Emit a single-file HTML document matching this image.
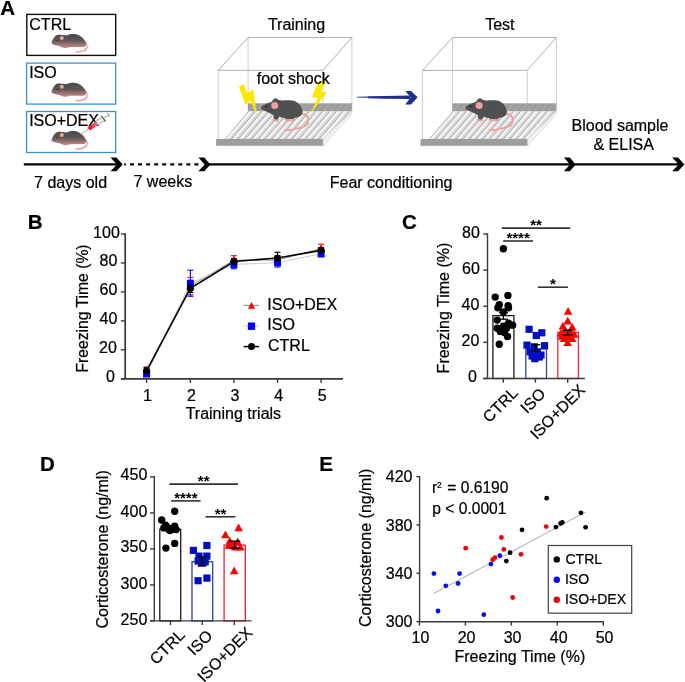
<!DOCTYPE html>
<html><head><meta charset="utf-8"><style>
html,body{margin:0;padding:0;background:#fff;}
svg{display:block;}
text{font-family:"Liberation Sans", Arial, Helvetica, sans-serif;stroke:#000;stroke-width:0.22px;}
</style></head><body>
<svg width="685" height="682" viewBox="0 0 685 682">
<rect width="685" height="682" fill="#fff"/>
<defs>
<linearGradient id="mg" x1="0" y1="0" x2="0" y2="1">
<stop offset="0" stop-color="#4a4a4a"/><stop offset="0.45" stop-color="#5c5454"/><stop offset="1" stop-color="#d08a8a"/>
</linearGradient>
<linearGradient id="rg" x1="0" y1="0" x2="1" y2="0"><stop offset="0" stop-color="#e8001a"/><stop offset="1" stop-color="#f77a8a"/></linearGradient>
<g id="smouse">
<path d="M85.5,91 C88.5,94 87.5,98.5 83,99.8 C81,100.4 78,100.7 76,100.7" fill="none" stroke="#f08c8c" stroke-width="1.2" stroke-linecap="round"/>
<path d="M51.5,91.8 C52.5,88 55,84.2 58,83.6 C61,83 64,84.5 67,84 C70,82.6 75,82 79,84 C82,85.5 85,88.5 86,92 C86.5,94.5 85,95.5 83,95.7 L70,95.8 C67,97 64,97 62.5,96.2 C59,94.5 55,94 53,93.4 C52,93 51.5,92.5 51.5,91.8 Z" fill="url(#mg)"/>
<circle cx="61.8" cy="86.7" r="2" fill="#f4a0a0"/>
<circle cx="57.3" cy="89.4" r="0.6" fill="#111"/>
<circle cx="52" cy="92.3" r="0.8" fill="#f08c8c"/>
</g>
<g id="bmouse">
<path d="M302.39,113.47 C305.5,114.4 308.2,116.5 308.4,119.9 C308.5,122.5 307.5,124 306.4,124.9 C304.5,126.5 302,127.3 300,127.6 C297,128.3 294,129.2 291.95,129.6 C289,130.1 287,130.3 285.5,130.3" fill="none" stroke="#f0a0a0" stroke-width="1.9" stroke-linecap="round"/>
<ellipse cx="275.6" cy="119.9" rx="3" ry="1.5" fill="#f0a0a0"/>
<ellipse cx="289.6" cy="119.5" rx="5.6" ry="1.7" fill="#f0a0a0"/>
<ellipse cx="276.2" cy="117" rx="2.8" ry="2.4" fill="#505050"/>
<ellipse cx="289.5" cy="117.6" rx="5.2" ry="1.5" fill="#505050"/>
<path d="M259.66,107.69 C261,106.5 263,105.4 265,104.4 C267.5,103.2 269.5,102.4 271.06,102.23 L273.07,99.82 C274,98.6 275,98.2 275.88,98.21 C277,98.3 277.9,98.9 277.89,99.8 L281.51,100.62 C284,100.3 286,100.2 287.13,100.22 C289.5,100.2 291.5,100.4 292.75,100.62 C294.5,101 296,101.6 296.77,102.23 C298.2,103.2 299,104 299.58,104.64 C300.6,105.8 301.2,107 301.59,108.25 C302.1,109.5 302.4,110.7 302.39,111.87 C302.4,113 302.3,113.7 301.99,114.28 C301.5,115.3 300.8,115.9 299.98,116.29 C299,116.9 297.9,117.3 296.77,117.49 C295.5,117.8 294,117.9 292.75,117.89 L287.13,118.13 C285,118.1 283,117.8 281.51,117.49 C280,117.1 278.6,116.7 277.49,116.29 L273.47,115.08 C272,114.5 270.6,113.7 269.46,113.07 C267.5,112.1 266,111.3 264.64,110.66 C263.4,110.1 262.3,109.6 261.43,109.06 C260.6,108.6 260,108.1 259.66,107.69 Z" fill="#505050"/>
<circle cx="274.7" cy="105.4" r="3.5" fill="#f0a0a0"/>
<ellipse cx="266.2" cy="106.4" rx="1" ry="0.65" fill="#111"/>
<circle cx="260.3" cy="107.8" r="0.9" fill="#f0a0a0"/>
</g>
</defs>
<text x="0.15" y="14.50" font-size="20.5" font-weight="bold" fill="#000" >A</text>
<rect x="26.8" y="14.4" width="88.9" height="41" fill="none" stroke="#111" stroke-width="1.4"/>
<rect x="26.6" y="63.1" width="89.1" height="41" fill="none" stroke="#3d8fd6" stroke-width="1.3"/>
<rect x="26.6" y="111.5" width="89.1" height="41" fill="none" stroke="#3d8fd6" stroke-width="1.3"/>
<text x="29.30" y="29.50" font-size="16" fill="#000" >CTRL</text>
<text x="29.16" y="77.60" font-size="16" fill="#000" >ISO</text>
<text x="29.16" y="126.00" font-size="16" fill="#000" >ISO+DEX</text>
<use href="#smouse" transform="translate(0,-48.8)"/>
<use href="#smouse" transform="translate(0,0)"/>
<use href="#smouse" transform="translate(0,48.4)"/>
<g transform="translate(88.6,129) rotate(-34.8)"><line x1="-16.7" y1="0" x2="0" y2="0" stroke="#666" stroke-width="0.7" stroke-dasharray="1.5,0.6"/><path d="M0,-1.2 L1.2,-2.1 L10.3,-2.1 L10.3,2.1 L1.2,2.1 L0,1.2 Z" fill="url(#rg)"/><rect x="10.3" y="-2.1" width="7.8" height="4.2" fill="#fff" stroke="#777" stroke-width="0.6"/><line x1="12" y1="-1" x2="17" y2="-1" stroke="#bbb" stroke-width="0.4"/><line x1="12" y1="1" x2="17" y2="1" stroke="#bbb" stroke-width="0.4"/><line x1="18.1" y1="-3.6" x2="18.1" y2="3.6" stroke="#444" stroke-width="1"/><line x1="18.1" y1="0" x2="24.6" y2="0" stroke="#777" stroke-width="0.7"/><line x1="24.6" y1="-2.4" x2="24.6" y2="2.4" stroke="#777" stroke-width="0.8"/></g>
<line x1="23.80" y1="164.40" x2="117.00" y2="164.40" stroke="#000" stroke-width="2.1" />
<rect x="124.2" y="163.3" width="1.7" height="2.2" fill="#000"/>
<line x1="130.00" y1="164.40" x2="200.00" y2="164.40" stroke="#000" stroke-width="2.2" stroke-dasharray="4,4.05"/>
<line x1="205.00" y1="164.40" x2="570.00" y2="164.40" stroke="#000" stroke-width="2.1" />
<line x1="570.00" y1="164.40" x2="680.00" y2="164.40" stroke="#000" stroke-width="2.1" />
<path d="M110.5,157.45000000000002 L116.4,157.45000000000002 L122.7,164.4 L116.4,171.35 L110.5,171.35 L117.0,164.4 Z" fill="#000"/>
<path d="M198.4,157.45000000000002 L204.3,157.45000000000002 L210.3,164.4 L204.3,171.35 L198.4,171.35 L204.6,164.4 Z" fill="#000"/>
<path d="M563.9,157.45000000000002 L569.8,157.45000000000002 L575.7,164.4 L569.8,171.35 L563.9,171.35 L570.0000000000001,164.4 Z" fill="#000"/>
<path d="M672.1,157.45000000000002 L678.0,157.45000000000002 L684.4,164.4 L678.0,171.35 L672.1,171.35 L678.7,164.4 Z" fill="#000"/>
<text x="34.10" y="187.60" font-size="16" fill="#000" >7 days old</text>
<text x="133.50" y="187.40" font-size="16" fill="#000" >7 weeks</text>
<text x="329.72" y="187.80" font-size="16" fill="#000" >Fear conditioning</text>
<text x="571.52" y="130.60" font-size="16" fill="#000" >Blood sample</text>
<text x="593.44" y="149.60" font-size="16" fill="#000" >&amp; ELISA</text>
<text x="267.88" y="29.80" font-size="16" fill="#000" >Training</text>
<text x="485.18" y="30.00" font-size="16" fill="#000" >Test</text>
<g transform="translate(0,0)">
<line x1="218.10" y1="70.50" x2="218.10" y2="138.80" stroke="#d2d2d2" stroke-width="1.1" />
<line x1="322.80" y1="70.50" x2="322.80" y2="110.00" stroke="#d2d2d2" stroke-width="1.1" />
<line x1="248.10" y1="37.50" x2="248.10" y2="103.40" stroke="#d2d2d2" stroke-width="1.1" />
<line x1="351.90" y1="37.50" x2="351.90" y2="110.80" stroke="#d2d2d2" stroke-width="1.1" />
<line x1="248.10" y1="37.50" x2="351.90" y2="37.50" stroke="#a8a8a8" stroke-width="0.9" />
<line x1="218.10" y1="70.40" x2="322.80" y2="70.40" stroke="#a8a8a8" stroke-width="0.9" />
<line x1="218.10" y1="70.40" x2="248.10" y2="37.50" stroke="#8c8c8c" stroke-width="0.7" />
<line x1="322.80" y1="70.40" x2="351.90" y2="37.50" stroke="#8c8c8c" stroke-width="0.7" />
<rect x="247.8" y="103.3" width="104.1" height="8.2" fill="#9d9d9d"/>
<path d="M247.8,111.5 L351.9,111.5 L323.2,138.9 L224.7,138.9 Z" fill="#dedede"/>
<clipPath id="fl0"><path d="M247.8,111.5 L351.9,111.5 L323.2,138.9 L224.7,138.9 Z"/></clipPath>
<clipPath id="bp0"><rect x="247.8" y="103.3" width="104.1" height="8.2"/></clipPath>
<g clip-path="url(#bp0)">
<path d="M248.60,111.5 L254.69,104.5" stroke="#d0d0d0" stroke-width="0.9" stroke-dasharray="0.7,0.7"/>
<path d="M255.35,111.5 L261.44,104.5" stroke="#d0d0d0" stroke-width="0.9" stroke-dasharray="0.7,0.7"/>
<path d="M262.10,111.5 L268.19,104.5" stroke="#d0d0d0" stroke-width="0.9" stroke-dasharray="0.7,0.7"/>
<path d="M268.85,111.5 L274.94,104.5" stroke="#d0d0d0" stroke-width="0.9" stroke-dasharray="0.7,0.7"/>
<path d="M275.60,111.5 L281.69,104.5" stroke="#d0d0d0" stroke-width="0.9" stroke-dasharray="0.7,0.7"/>
<path d="M282.35,111.5 L288.44,104.5" stroke="#d0d0d0" stroke-width="0.9" stroke-dasharray="0.7,0.7"/>
<path d="M289.10,111.5 L295.19,104.5" stroke="#d0d0d0" stroke-width="0.9" stroke-dasharray="0.7,0.7"/>
<path d="M295.85,111.5 L301.94,104.5" stroke="#d0d0d0" stroke-width="0.9" stroke-dasharray="0.7,0.7"/>
<path d="M302.60,111.5 L308.69,104.5" stroke="#d0d0d0" stroke-width="0.9" stroke-dasharray="0.7,0.7"/>
<path d="M309.35,111.5 L315.44,104.5" stroke="#d0d0d0" stroke-width="0.9" stroke-dasharray="0.7,0.7"/>
<path d="M316.10,111.5 L322.19,104.5" stroke="#d0d0d0" stroke-width="0.9" stroke-dasharray="0.7,0.7"/>
<path d="M322.85,111.5 L328.94,104.5" stroke="#d0d0d0" stroke-width="0.9" stroke-dasharray="0.7,0.7"/>
<path d="M329.60,111.5 L335.69,104.5" stroke="#d0d0d0" stroke-width="0.9" stroke-dasharray="0.7,0.7"/>
<path d="M336.35,111.5 L342.44,104.5" stroke="#d0d0d0" stroke-width="0.9" stroke-dasharray="0.7,0.7"/>
<path d="M343.10,111.5 L349.19,104.5" stroke="#d0d0d0" stroke-width="0.9" stroke-dasharray="0.7,0.7"/>
<path d="M349.85,111.5 L355.94,104.5" stroke="#d0d0d0" stroke-width="0.9" stroke-dasharray="0.7,0.7"/>
<path d="M356.60,111.5 L362.69,104.5" stroke="#d0d0d0" stroke-width="0.9" stroke-dasharray="0.7,0.7"/>
</g>
<g clip-path="url(#fl0)">
<path d="M206.45,139 L237.77,103" stroke="#f8f8f8" stroke-width="2.2"/>
<path d="M204.45,139 L235.77,103" stroke="#9a9a9a" stroke-width="1.5" stroke-dasharray="0.75,0.75"/>
<path d="M213.20,139 L244.52,103" stroke="#f8f8f8" stroke-width="2.2"/>
<path d="M211.20,139 L242.52,103" stroke="#9a9a9a" stroke-width="1.5" stroke-dasharray="0.75,0.75"/>
<path d="M219.95,139 L251.27,103" stroke="#f8f8f8" stroke-width="2.2"/>
<path d="M217.95,139 L249.27,103" stroke="#9a9a9a" stroke-width="1.5" stroke-dasharray="0.75,0.75"/>
<path d="M226.70,139 L258.02,103" stroke="#f8f8f8" stroke-width="2.2"/>
<path d="M224.70,139 L256.02,103" stroke="#9a9a9a" stroke-width="1.5" stroke-dasharray="0.75,0.75"/>
<path d="M233.45,139 L264.77,103" stroke="#f8f8f8" stroke-width="2.2"/>
<path d="M231.45,139 L262.77,103" stroke="#9a9a9a" stroke-width="1.5" stroke-dasharray="0.75,0.75"/>
<path d="M240.20,139 L271.52,103" stroke="#f8f8f8" stroke-width="2.2"/>
<path d="M238.20,139 L269.52,103" stroke="#9a9a9a" stroke-width="1.5" stroke-dasharray="0.75,0.75"/>
<path d="M246.95,139 L278.27,103" stroke="#f8f8f8" stroke-width="2.2"/>
<path d="M244.95,139 L276.27,103" stroke="#9a9a9a" stroke-width="1.5" stroke-dasharray="0.75,0.75"/>
<path d="M253.70,139 L285.02,103" stroke="#f8f8f8" stroke-width="2.2"/>
<path d="M251.70,139 L283.02,103" stroke="#9a9a9a" stroke-width="1.5" stroke-dasharray="0.75,0.75"/>
<path d="M260.45,139 L291.77,103" stroke="#f8f8f8" stroke-width="2.2"/>
<path d="M258.45,139 L289.77,103" stroke="#9a9a9a" stroke-width="1.5" stroke-dasharray="0.75,0.75"/>
<path d="M267.20,139 L298.52,103" stroke="#f8f8f8" stroke-width="2.2"/>
<path d="M265.20,139 L296.52,103" stroke="#9a9a9a" stroke-width="1.5" stroke-dasharray="0.75,0.75"/>
<path d="M273.95,139 L305.27,103" stroke="#f8f8f8" stroke-width="2.2"/>
<path d="M271.95,139 L303.27,103" stroke="#9a9a9a" stroke-width="1.5" stroke-dasharray="0.75,0.75"/>
<path d="M280.70,139 L312.02,103" stroke="#f8f8f8" stroke-width="2.2"/>
<path d="M278.70,139 L310.02,103" stroke="#9a9a9a" stroke-width="1.5" stroke-dasharray="0.75,0.75"/>
<path d="M287.45,139 L318.77,103" stroke="#f8f8f8" stroke-width="2.2"/>
<path d="M285.45,139 L316.77,103" stroke="#9a9a9a" stroke-width="1.5" stroke-dasharray="0.75,0.75"/>
<path d="M294.20,139 L325.52,103" stroke="#f8f8f8" stroke-width="2.2"/>
<path d="M292.20,139 L323.52,103" stroke="#9a9a9a" stroke-width="1.5" stroke-dasharray="0.75,0.75"/>
<path d="M300.95,139 L332.27,103" stroke="#f8f8f8" stroke-width="2.2"/>
<path d="M298.95,139 L330.27,103" stroke="#9a9a9a" stroke-width="1.5" stroke-dasharray="0.75,0.75"/>
<path d="M307.70,139 L339.02,103" stroke="#f8f8f8" stroke-width="2.2"/>
<path d="M305.70,139 L337.02,103" stroke="#9a9a9a" stroke-width="1.5" stroke-dasharray="0.75,0.75"/>
<path d="M314.45,139 L345.77,103" stroke="#f8f8f8" stroke-width="2.2"/>
<path d="M312.45,139 L343.77,103" stroke="#9a9a9a" stroke-width="1.5" stroke-dasharray="0.75,0.75"/>
<path d="M321.20,139 L352.52,103" stroke="#f8f8f8" stroke-width="2.2"/>
<path d="M319.20,139 L350.52,103" stroke="#9a9a9a" stroke-width="1.5" stroke-dasharray="0.75,0.75"/>
<path d="M327.95,139 L359.27,103" stroke="#f8f8f8" stroke-width="2.2"/>
<path d="M325.95,139 L357.27,103" stroke="#9a9a9a" stroke-width="1.5" stroke-dasharray="0.75,0.75"/>
<path d="M334.70,139 L366.02,103" stroke="#f8f8f8" stroke-width="2.2"/>
<path d="M332.70,139 L364.02,103" stroke="#9a9a9a" stroke-width="1.5" stroke-dasharray="0.75,0.75"/>
<path d="M341.45,139 L372.77,103" stroke="#f8f8f8" stroke-width="2.2"/>
<path d="M339.45,139 L370.77,103" stroke="#9a9a9a" stroke-width="1.5" stroke-dasharray="0.75,0.75"/>
<path d="M348.20,139 L379.52,103" stroke="#f8f8f8" stroke-width="2.2"/>
<path d="M346.20,139 L377.52,103" stroke="#9a9a9a" stroke-width="1.5" stroke-dasharray="0.75,0.75"/>
<path d="M354.95,139 L386.27,103" stroke="#f8f8f8" stroke-width="2.2"/>
<path d="M352.95,139 L384.27,103" stroke="#9a9a9a" stroke-width="1.5" stroke-dasharray="0.75,0.75"/>
</g>
<rect x="216.1" y="138.9" width="107.1" height="6.9" fill="#9d9d9d"/>
<path d="M323.2,138.9 L351.9,111.5 L351.9,114 L323.2,145.8 Z" fill="#f2f2f2" stroke="#c8c8c8" stroke-width="0.5"/>
<use href="#bmouse"/>
<path d="M239,86.7 L244,84 L247.3,93.5 L252.3,89.5 L253.5,91 L256.8,115.8 L250.5,100.8 L245.3,104.5 Z" fill="#ffe800"/>
<path d="M319,80.8 L325.5,81.5 L320.8,91.8 L327,92.5 L310.6,113.5 L317.9,98 L311.7,97.1 Z" fill="#ffe800"/>
<text x="256.76" y="84.30" font-size="16" fill="#000" >foot shock</text>
</g>
<g transform="translate(204.4,0)">
<line x1="218.10" y1="70.50" x2="218.10" y2="138.80" stroke="#d2d2d2" stroke-width="1.1" />
<line x1="322.80" y1="70.50" x2="322.80" y2="110.00" stroke="#d2d2d2" stroke-width="1.1" />
<line x1="248.10" y1="37.50" x2="248.10" y2="103.40" stroke="#d2d2d2" stroke-width="1.1" />
<line x1="351.90" y1="37.50" x2="351.90" y2="110.80" stroke="#d2d2d2" stroke-width="1.1" />
<line x1="248.10" y1="37.50" x2="351.90" y2="37.50" stroke="#a8a8a8" stroke-width="0.9" />
<line x1="218.10" y1="70.40" x2="322.80" y2="70.40" stroke="#a8a8a8" stroke-width="0.9" />
<line x1="218.10" y1="70.40" x2="248.10" y2="37.50" stroke="#8c8c8c" stroke-width="0.7" />
<line x1="322.80" y1="70.40" x2="351.90" y2="37.50" stroke="#8c8c8c" stroke-width="0.7" />
<rect x="247.8" y="103.3" width="104.1" height="8.2" fill="#9d9d9d"/>
<path d="M247.8,111.5 L351.9,111.5 L323.2,138.9 L224.7,138.9 Z" fill="#dedede"/>
<clipPath id="fl204"><path d="M247.8,111.5 L351.9,111.5 L323.2,138.9 L224.7,138.9 Z"/></clipPath>
<clipPath id="bp204"><rect x="247.8" y="103.3" width="104.1" height="8.2"/></clipPath>
<g clip-path="url(#bp204)">
<path d="M248.60,111.5 L254.69,104.5" stroke="#d0d0d0" stroke-width="0.9" stroke-dasharray="0.7,0.7"/>
<path d="M255.35,111.5 L261.44,104.5" stroke="#d0d0d0" stroke-width="0.9" stroke-dasharray="0.7,0.7"/>
<path d="M262.10,111.5 L268.19,104.5" stroke="#d0d0d0" stroke-width="0.9" stroke-dasharray="0.7,0.7"/>
<path d="M268.85,111.5 L274.94,104.5" stroke="#d0d0d0" stroke-width="0.9" stroke-dasharray="0.7,0.7"/>
<path d="M275.60,111.5 L281.69,104.5" stroke="#d0d0d0" stroke-width="0.9" stroke-dasharray="0.7,0.7"/>
<path d="M282.35,111.5 L288.44,104.5" stroke="#d0d0d0" stroke-width="0.9" stroke-dasharray="0.7,0.7"/>
<path d="M289.10,111.5 L295.19,104.5" stroke="#d0d0d0" stroke-width="0.9" stroke-dasharray="0.7,0.7"/>
<path d="M295.85,111.5 L301.94,104.5" stroke="#d0d0d0" stroke-width="0.9" stroke-dasharray="0.7,0.7"/>
<path d="M302.60,111.5 L308.69,104.5" stroke="#d0d0d0" stroke-width="0.9" stroke-dasharray="0.7,0.7"/>
<path d="M309.35,111.5 L315.44,104.5" stroke="#d0d0d0" stroke-width="0.9" stroke-dasharray="0.7,0.7"/>
<path d="M316.10,111.5 L322.19,104.5" stroke="#d0d0d0" stroke-width="0.9" stroke-dasharray="0.7,0.7"/>
<path d="M322.85,111.5 L328.94,104.5" stroke="#d0d0d0" stroke-width="0.9" stroke-dasharray="0.7,0.7"/>
<path d="M329.60,111.5 L335.69,104.5" stroke="#d0d0d0" stroke-width="0.9" stroke-dasharray="0.7,0.7"/>
<path d="M336.35,111.5 L342.44,104.5" stroke="#d0d0d0" stroke-width="0.9" stroke-dasharray="0.7,0.7"/>
<path d="M343.10,111.5 L349.19,104.5" stroke="#d0d0d0" stroke-width="0.9" stroke-dasharray="0.7,0.7"/>
<path d="M349.85,111.5 L355.94,104.5" stroke="#d0d0d0" stroke-width="0.9" stroke-dasharray="0.7,0.7"/>
<path d="M356.60,111.5 L362.69,104.5" stroke="#d0d0d0" stroke-width="0.9" stroke-dasharray="0.7,0.7"/>
</g>
<g clip-path="url(#fl204)">
<path d="M206.45,139 L237.77,103" stroke="#f8f8f8" stroke-width="2.2"/>
<path d="M204.45,139 L235.77,103" stroke="#9a9a9a" stroke-width="1.5" stroke-dasharray="0.75,0.75"/>
<path d="M213.20,139 L244.52,103" stroke="#f8f8f8" stroke-width="2.2"/>
<path d="M211.20,139 L242.52,103" stroke="#9a9a9a" stroke-width="1.5" stroke-dasharray="0.75,0.75"/>
<path d="M219.95,139 L251.27,103" stroke="#f8f8f8" stroke-width="2.2"/>
<path d="M217.95,139 L249.27,103" stroke="#9a9a9a" stroke-width="1.5" stroke-dasharray="0.75,0.75"/>
<path d="M226.70,139 L258.02,103" stroke="#f8f8f8" stroke-width="2.2"/>
<path d="M224.70,139 L256.02,103" stroke="#9a9a9a" stroke-width="1.5" stroke-dasharray="0.75,0.75"/>
<path d="M233.45,139 L264.77,103" stroke="#f8f8f8" stroke-width="2.2"/>
<path d="M231.45,139 L262.77,103" stroke="#9a9a9a" stroke-width="1.5" stroke-dasharray="0.75,0.75"/>
<path d="M240.20,139 L271.52,103" stroke="#f8f8f8" stroke-width="2.2"/>
<path d="M238.20,139 L269.52,103" stroke="#9a9a9a" stroke-width="1.5" stroke-dasharray="0.75,0.75"/>
<path d="M246.95,139 L278.27,103" stroke="#f8f8f8" stroke-width="2.2"/>
<path d="M244.95,139 L276.27,103" stroke="#9a9a9a" stroke-width="1.5" stroke-dasharray="0.75,0.75"/>
<path d="M253.70,139 L285.02,103" stroke="#f8f8f8" stroke-width="2.2"/>
<path d="M251.70,139 L283.02,103" stroke="#9a9a9a" stroke-width="1.5" stroke-dasharray="0.75,0.75"/>
<path d="M260.45,139 L291.77,103" stroke="#f8f8f8" stroke-width="2.2"/>
<path d="M258.45,139 L289.77,103" stroke="#9a9a9a" stroke-width="1.5" stroke-dasharray="0.75,0.75"/>
<path d="M267.20,139 L298.52,103" stroke="#f8f8f8" stroke-width="2.2"/>
<path d="M265.20,139 L296.52,103" stroke="#9a9a9a" stroke-width="1.5" stroke-dasharray="0.75,0.75"/>
<path d="M273.95,139 L305.27,103" stroke="#f8f8f8" stroke-width="2.2"/>
<path d="M271.95,139 L303.27,103" stroke="#9a9a9a" stroke-width="1.5" stroke-dasharray="0.75,0.75"/>
<path d="M280.70,139 L312.02,103" stroke="#f8f8f8" stroke-width="2.2"/>
<path d="M278.70,139 L310.02,103" stroke="#9a9a9a" stroke-width="1.5" stroke-dasharray="0.75,0.75"/>
<path d="M287.45,139 L318.77,103" stroke="#f8f8f8" stroke-width="2.2"/>
<path d="M285.45,139 L316.77,103" stroke="#9a9a9a" stroke-width="1.5" stroke-dasharray="0.75,0.75"/>
<path d="M294.20,139 L325.52,103" stroke="#f8f8f8" stroke-width="2.2"/>
<path d="M292.20,139 L323.52,103" stroke="#9a9a9a" stroke-width="1.5" stroke-dasharray="0.75,0.75"/>
<path d="M300.95,139 L332.27,103" stroke="#f8f8f8" stroke-width="2.2"/>
<path d="M298.95,139 L330.27,103" stroke="#9a9a9a" stroke-width="1.5" stroke-dasharray="0.75,0.75"/>
<path d="M307.70,139 L339.02,103" stroke="#f8f8f8" stroke-width="2.2"/>
<path d="M305.70,139 L337.02,103" stroke="#9a9a9a" stroke-width="1.5" stroke-dasharray="0.75,0.75"/>
<path d="M314.45,139 L345.77,103" stroke="#f8f8f8" stroke-width="2.2"/>
<path d="M312.45,139 L343.77,103" stroke="#9a9a9a" stroke-width="1.5" stroke-dasharray="0.75,0.75"/>
<path d="M321.20,139 L352.52,103" stroke="#f8f8f8" stroke-width="2.2"/>
<path d="M319.20,139 L350.52,103" stroke="#9a9a9a" stroke-width="1.5" stroke-dasharray="0.75,0.75"/>
<path d="M327.95,139 L359.27,103" stroke="#f8f8f8" stroke-width="2.2"/>
<path d="M325.95,139 L357.27,103" stroke="#9a9a9a" stroke-width="1.5" stroke-dasharray="0.75,0.75"/>
<path d="M334.70,139 L366.02,103" stroke="#f8f8f8" stroke-width="2.2"/>
<path d="M332.70,139 L364.02,103" stroke="#9a9a9a" stroke-width="1.5" stroke-dasharray="0.75,0.75"/>
<path d="M341.45,139 L372.77,103" stroke="#f8f8f8" stroke-width="2.2"/>
<path d="M339.45,139 L370.77,103" stroke="#9a9a9a" stroke-width="1.5" stroke-dasharray="0.75,0.75"/>
<path d="M348.20,139 L379.52,103" stroke="#f8f8f8" stroke-width="2.2"/>
<path d="M346.20,139 L377.52,103" stroke="#9a9a9a" stroke-width="1.5" stroke-dasharray="0.75,0.75"/>
<path d="M354.95,139 L386.27,103" stroke="#f8f8f8" stroke-width="2.2"/>
<path d="M352.95,139 L384.27,103" stroke="#9a9a9a" stroke-width="1.5" stroke-dasharray="0.75,0.75"/>
</g>
<rect x="216.1" y="138.9" width="107.1" height="6.9" fill="#9d9d9d"/>
<path d="M323.2,138.9 L351.9,111.5 L351.9,114 L323.2,145.8 Z" fill="#f2f2f2" stroke="#c8c8c8" stroke-width="0.5"/>
<use href="#bmouse"/>
</g>
<path d="M356.9,96.7 L368,96.5 L368,96.2 L385,95.9 L410,95.6 L410,99.1 L385,98.7 L368,98.2 L368,97.8 L356.9,97.6 Z" fill="#1e2d8c"/>
<path d="M405.3,91.1 L411,91.1 L417.6,97.35 L411,104.5 L405.3,104.5 L410.7,97.35 Z" fill="#1e2d8c"/>
<text x="27.87" y="228.70" font-size="20.5" font-weight="bold" fill="#000" >B</text>
<line x1="125.20" y1="233.30" x2="125.20" y2="378.80" stroke="#3a3a3a" stroke-width="1.75" />
<line x1="121.00" y1="378.80" x2="343.00" y2="378.80" stroke="#3a3a3a" stroke-width="1.65" />
<line x1="120.90" y1="378.80" x2="125.20" y2="378.80" stroke="#3a3a3a" stroke-width="1.4" />
<text x="105.88" y="382.30" font-size="16" fill="#000" >0</text>
<line x1="120.90" y1="349.84" x2="125.20" y2="349.84" stroke="#3a3a3a" stroke-width="1.4" />
<text x="99.00" y="353.34" font-size="16" fill="#000" >20</text>
<line x1="120.90" y1="320.88" x2="125.20" y2="320.88" stroke="#3a3a3a" stroke-width="1.4" />
<text x="99.50" y="324.38" font-size="16" fill="#000" >40</text>
<line x1="120.90" y1="291.92" x2="125.20" y2="291.92" stroke="#3a3a3a" stroke-width="1.4" />
<text x="99.50" y="295.42" font-size="16" fill="#000" >60</text>
<line x1="120.90" y1="262.96" x2="125.20" y2="262.96" stroke="#3a3a3a" stroke-width="1.4" />
<text x="99.50" y="266.46" font-size="16" fill="#000" >80</text>
<line x1="120.90" y1="234.00" x2="125.20" y2="234.00" stroke="#3a3a3a" stroke-width="1.4" />
<text x="93.12" y="237.50" font-size="16" fill="#000" >100</text>
<line x1="146.60" y1="378.80" x2="146.60" y2="383.00" stroke="#3a3a3a" stroke-width="1.4" />
<text x="142.92" y="400.90" font-size="16" fill="#000" >1</text>
<line x1="190.40" y1="378.80" x2="190.40" y2="383.00" stroke="#3a3a3a" stroke-width="1.4" />
<text x="186.96" y="400.90" font-size="16" fill="#000" >2</text>
<line x1="233.90" y1="378.80" x2="233.90" y2="383.00" stroke="#3a3a3a" stroke-width="1.4" />
<text x="230.46" y="400.90" font-size="16" fill="#000" >3</text>
<line x1="277.50" y1="378.80" x2="277.50" y2="383.00" stroke="#3a3a3a" stroke-width="1.4" />
<text x="274.14" y="400.90" font-size="16" fill="#000" >4</text>
<line x1="321.10" y1="378.80" x2="321.10" y2="383.00" stroke="#3a3a3a" stroke-width="1.4" />
<text x="317.66" y="400.90" font-size="16" fill="#000" >5</text>
<text x="185.65" y="419.20" font-size="16" fill="#000" >Training trials</text>
<text transform="translate(88.00,372.55) rotate(-90)" font-size="15.7">Freezing Time (%)</text>
<line x1="146.60" y1="367.22" x2="146.60" y2="373.01" stroke="#f00" stroke-width="1.1" />
<line x1="143.60" y1="367.22" x2="149.60" y2="367.22" stroke="#f00" stroke-width="1.1" />
<line x1="143.60" y1="373.01" x2="149.60" y2="373.01" stroke="#f00" stroke-width="1.1" />
<line x1="190.40" y1="277.44" x2="190.40" y2="294.82" stroke="#f00" stroke-width="1.1" />
<line x1="187.40" y1="277.44" x2="193.40" y2="277.44" stroke="#f00" stroke-width="1.1" />
<line x1="187.40" y1="294.82" x2="193.40" y2="294.82" stroke="#f00" stroke-width="1.1" />
<line x1="233.90" y1="255.72" x2="233.90" y2="264.41" stroke="#f00" stroke-width="1.1" />
<line x1="230.90" y1="255.72" x2="236.90" y2="255.72" stroke="#f00" stroke-width="1.1" />
<line x1="230.90" y1="264.41" x2="236.90" y2="264.41" stroke="#f00" stroke-width="1.1" />
<line x1="277.50" y1="255.72" x2="277.50" y2="264.41" stroke="#f00" stroke-width="1.1" />
<line x1="274.50" y1="255.72" x2="280.50" y2="255.72" stroke="#f00" stroke-width="1.1" />
<line x1="274.50" y1="264.41" x2="280.50" y2="264.41" stroke="#f00" stroke-width="1.1" />
<line x1="321.10" y1="244.14" x2="321.10" y2="252.82" stroke="#f00" stroke-width="1.1" />
<line x1="318.10" y1="244.14" x2="324.10" y2="244.14" stroke="#f00" stroke-width="1.1" />
<line x1="318.10" y1="252.82" x2="324.10" y2="252.82" stroke="#f00" stroke-width="1.1" />
<line x1="146.60" y1="371.13" x2="146.60" y2="376.19" stroke="#00f" stroke-width="1.1" />
<line x1="143.60" y1="371.13" x2="149.60" y2="371.13" stroke="#00f" stroke-width="1.1" />
<line x1="143.60" y1="376.19" x2="149.60" y2="376.19" stroke="#00f" stroke-width="1.1" />
<line x1="190.40" y1="270.20" x2="190.40" y2="296.26" stroke="#00f" stroke-width="1.1" />
<line x1="187.40" y1="270.20" x2="193.40" y2="270.20" stroke="#00f" stroke-width="1.1" />
<line x1="187.40" y1="296.26" x2="193.40" y2="296.26" stroke="#00f" stroke-width="1.1" />
<line x1="233.90" y1="260.06" x2="233.90" y2="268.75" stroke="#00f" stroke-width="1.1" />
<line x1="230.90" y1="260.06" x2="236.90" y2="260.06" stroke="#00f" stroke-width="1.1" />
<line x1="230.90" y1="268.75" x2="236.90" y2="268.75" stroke="#00f" stroke-width="1.1" />
<line x1="277.50" y1="258.33" x2="277.50" y2="267.01" stroke="#00f" stroke-width="1.1" />
<line x1="274.50" y1="258.33" x2="280.50" y2="258.33" stroke="#00f" stroke-width="1.1" />
<line x1="274.50" y1="267.01" x2="280.50" y2="267.01" stroke="#00f" stroke-width="1.1" />
<line x1="321.10" y1="250.94" x2="321.10" y2="256.73" stroke="#00f" stroke-width="1.1" />
<line x1="318.10" y1="250.94" x2="324.10" y2="250.94" stroke="#00f" stroke-width="1.1" />
<line x1="318.10" y1="256.73" x2="324.10" y2="256.73" stroke="#00f" stroke-width="1.1" />
<line x1="146.60" y1="367.36" x2="146.60" y2="374.31" stroke="#000" stroke-width="1.1" />
<line x1="143.60" y1="367.36" x2="149.60" y2="367.36" stroke="#000" stroke-width="1.1" />
<line x1="143.60" y1="374.31" x2="149.60" y2="374.31" stroke="#000" stroke-width="1.1" />
<line x1="190.40" y1="283.81" x2="190.40" y2="292.50" stroke="#000" stroke-width="1.1" />
<line x1="187.40" y1="283.81" x2="193.40" y2="283.81" stroke="#000" stroke-width="1.1" />
<line x1="187.40" y1="292.50" x2="193.40" y2="292.50" stroke="#000" stroke-width="1.1" />
<line x1="233.90" y1="258.62" x2="233.90" y2="264.41" stroke="#000" stroke-width="1.1" />
<line x1="230.90" y1="258.62" x2="236.90" y2="258.62" stroke="#000" stroke-width="1.1" />
<line x1="230.90" y1="264.41" x2="236.90" y2="264.41" stroke="#000" stroke-width="1.1" />
<line x1="277.50" y1="252.24" x2="277.50" y2="263.83" stroke="#000" stroke-width="1.1" />
<line x1="274.50" y1="252.24" x2="280.50" y2="252.24" stroke="#000" stroke-width="1.1" />
<line x1="274.50" y1="263.83" x2="280.50" y2="263.83" stroke="#000" stroke-width="1.1" />
<line x1="321.10" y1="247.47" x2="321.10" y2="253.26" stroke="#000" stroke-width="1.1" />
<line x1="318.10" y1="247.47" x2="324.10" y2="247.47" stroke="#000" stroke-width="1.1" />
<line x1="318.10" y1="253.26" x2="324.10" y2="253.26" stroke="#000" stroke-width="1.1" />
<polyline points="146.6,370.1 190.4,286.1 233.9,260.1 277.5,260.1 321.1,248.5" fill="none" stroke="#999" stroke-width="1"/>
<polyline points="146.6,374.0 190.4,283.2 233.9,264.4 277.5,262.7 321.1,253.8" fill="none" stroke="#ccc" stroke-width="1"/>
<polyline points="146.6,370.8 190.4,288.2 233.9,261.5 277.5,258.0 321.1,250.4" fill="none" stroke="#000" stroke-width="1.6"/>
<path d="M146.6,366.112 L150.6,373.112 L142.6,373.112 Z" fill="#f00"/>
<path d="M190.4,282.128 L194.4,289.128 L186.4,289.128 Z" fill="#f00"/>
<path d="M233.9,256.06399999999996 L237.9,263.06399999999996 L229.9,263.06399999999996 Z" fill="#f00"/>
<path d="M277.5,256.06399999999996 L281.5,263.06399999999996 L273.5,263.06399999999996 Z" fill="#f00"/>
<path d="M321.1,244.48 L325.1,251.48 L317.1,251.48 Z" fill="#f00"/>
<rect x="143.1" y="370.52160000000003" width="7" height="7" fill="#00f"/>
<rect x="186.9" y="279.73199999999997" width="7" height="7" fill="#00f"/>
<rect x="230.4" y="260.908" width="7" height="7" fill="#00f"/>
<rect x="274.0" y="259.1704" width="7" height="7" fill="#00f"/>
<rect x="317.6" y="250.3376" width="7" height="7" fill="#00f"/>
<circle cx="146.6" cy="370.84" r="3.6" fill="#000"/>
<circle cx="190.4" cy="288.16" r="3.6" fill="#000"/>
<circle cx="233.9" cy="261.51" r="3.6" fill="#000"/>
<circle cx="277.5" cy="258.04" r="3.6" fill="#000"/>
<circle cx="321.1" cy="250.36" r="3.6" fill="#000"/>
<line x1="243.60" y1="305.40" x2="259.00" y2="305.40" stroke="#999" stroke-width="1.2" />
<path d="M251.5,302.09999999999997 L255.1,308.79999999999995 L247.9,308.79999999999995 Z" fill="#f00"/>
<text x="267.36" y="309.60" font-size="16" fill="#000" >ISO+DEX</text>
<line x1="243.60" y1="326.20" x2="259.00" y2="326.20" stroke="#d8d8d8" stroke-width="1.2" />
<rect x="247.9" y="322.5" width="7.2" height="7.4" fill="#00f"/>
<text x="267.36" y="330.00" font-size="16" fill="#000" >ISO</text>
<line x1="243.60" y1="346.60" x2="259.00" y2="346.60" stroke="#000" stroke-width="1.5" />
<circle cx="251.5" cy="346.6" r="3.5" fill="#000"/>
<text x="268.00" y="350.50" font-size="16" fill="#000" >CTRL</text>
<text x="402.08" y="229.10" font-size="20.5" font-weight="bold" fill="#000" >C</text>
<line x1="483.20" y1="378.50" x2="487.50" y2="378.50" stroke="#3a3a3a" stroke-width="1.4" />
<text x="468.08" y="382.20" font-size="16" fill="#000" >0</text>
<line x1="483.20" y1="342.38" x2="487.50" y2="342.38" stroke="#3a3a3a" stroke-width="1.4" />
<text x="461.60" y="346.07" font-size="16" fill="#000" >20</text>
<line x1="483.20" y1="306.25" x2="487.50" y2="306.25" stroke="#3a3a3a" stroke-width="1.4" />
<text x="461.60" y="309.95" font-size="16" fill="#000" >40</text>
<line x1="483.20" y1="270.12" x2="487.50" y2="270.12" stroke="#3a3a3a" stroke-width="1.4" />
<text x="462.00" y="273.82" font-size="16" fill="#000" >60</text>
<line x1="483.20" y1="234.00" x2="487.50" y2="234.00" stroke="#3a3a3a" stroke-width="1.4" />
<text x="462.10" y="237.70" font-size="16" fill="#000" >80</text>
<text transform="translate(449.00,373.38) rotate(-90)" font-size="16">Freezing Time (%)</text>
<rect x="492.90" y="315.6" width="21.00" height="62.90" fill="none" stroke="#1a1a1a" stroke-width="1.3"/>
<rect x="525.80" y="348.8" width="20.70" height="29.70" fill="none" stroke="#3646a0" stroke-width="1.3"/>
<rect x="557.80" y="332.4" width="20.60" height="46.10" fill="none" stroke="#ee2a3a" stroke-width="1.3"/>
<line x1="487.50" y1="233.30" x2="487.50" y2="378.50" stroke="#3a3a3a" stroke-width="1.4" />
<line x1="483.30" y1="378.50" x2="584.90" y2="378.50" stroke="#3a3a3a" stroke-width="1.4" />
<line x1="503.30" y1="378.50" x2="503.30" y2="382.70" stroke="#3a3a3a" stroke-width="1.4" />
<line x1="535.40" y1="378.50" x2="535.40" y2="382.70" stroke="#3a3a3a" stroke-width="1.4" />
<line x1="567.70" y1="378.50" x2="567.70" y2="382.70" stroke="#3a3a3a" stroke-width="1.4" />
<circle cx="503.4" cy="248.8" r="3.7" fill="#000"/>
<circle cx="495.2" cy="297.1" r="3.7" fill="#000"/>
<circle cx="507.9" cy="295.4" r="3.7" fill="#000"/>
<circle cx="499.3" cy="304.7" r="3.7" fill="#000"/>
<circle cx="508.1" cy="305.7" r="3.7" fill="#000"/>
<circle cx="497.9" cy="307.8" r="3.7" fill="#000"/>
<circle cx="508.5" cy="307.8" r="3.7" fill="#000"/>
<circle cx="503.4" cy="311.9" r="3.7" fill="#000"/>
<circle cx="497.2" cy="320.1" r="3.7" fill="#000"/>
<circle cx="508.5" cy="323.2" r="3.7" fill="#000"/>
<circle cx="512.6" cy="325.2" r="3.7" fill="#000"/>
<circle cx="497.2" cy="328.3" r="3.7" fill="#000"/>
<circle cx="503.4" cy="326.2" r="3.7" fill="#000"/>
<circle cx="506.5" cy="328.3" r="3.7" fill="#000"/>
<circle cx="500.3" cy="331.4" r="3.7" fill="#000"/>
<circle cx="504.4" cy="332.4" r="3.7" fill="#000"/>
<circle cx="507.5" cy="336.5" r="3.7" fill="#000"/>
<circle cx="499.3" cy="344.3" r="3.7" fill="#000"/>
<rect x="525.5" y="325.7" width="7.2" height="7.2" fill="#0010c0"/>
<rect x="538.1999999999999" y="329.2" width="7.2" height="7.2" fill="#0010c0"/>
<rect x="532.6999999999999" y="331.9" width="7.2" height="7.2" fill="#0010c0"/>
<rect x="523.4" y="341.5" width="7.2" height="7.2" fill="#0010c0"/>
<rect x="540.9" y="342.09999999999997" width="7.2" height="7.2" fill="#0010c0"/>
<rect x="530.6" y="343.2" width="7.2" height="7.2" fill="#0010c0"/>
<rect x="526.5" y="348.29999999999995" width="7.2" height="7.2" fill="#0010c0"/>
<rect x="533.6999999999999" y="348.9" width="7.2" height="7.2" fill="#0010c0"/>
<rect x="537.4" y="351.4" width="7.2" height="7.2" fill="#0010c0"/>
<rect x="528.5" y="352.4" width="7.2" height="7.2" fill="#0010c0"/>
<rect x="531.1999999999999" y="355.09999999999997" width="7.2" height="7.2" fill="#0010c0"/>
<rect x="535.6999999999999" y="353.4" width="7.2" height="7.2" fill="#0010c0"/>
<path d="M568.1,307.1 L572.4,314.8 L563.8000000000001,314.8 Z" fill="#ff0000"/>
<path d="M567.7,316.70000000000005 L572.0,324.40000000000003 L563.4000000000001,324.40000000000003 Z" fill="#ff0000"/>
<path d="M562.9,321.8 L567.1999999999999,329.5 L558.6,329.5 Z" fill="#ff0000"/>
<path d="M572.2,322.90000000000003 L576.5,330.6 L567.9000000000001,330.6 Z" fill="#ff0000"/>
<path d="M565,325.90000000000003 L569.3,333.6 L560.7,333.6 Z" fill="#ff0000"/>
<path d="M570.1,327.0 L574.4,334.7 L565.8000000000001,334.7 Z" fill="#ff0000"/>
<path d="M560.9,329.0 L565.1999999999999,336.7 L556.6,336.7 Z" fill="#ff0000"/>
<path d="M574.2,330.1 L578.5,337.8 L569.9000000000001,337.8 Z" fill="#ff0000"/>
<path d="M566,331.1 L570.3,338.8 L561.7,338.8 Z" fill="#ff0000"/>
<path d="M569.1,333.1 L573.4,340.8 L564.8000000000001,340.8 Z" fill="#ff0000"/>
<path d="M564,334.20000000000005 L568.3,341.90000000000003 L559.7,341.90000000000003 Z" fill="#ff0000"/>
<path d="M572.2,334.20000000000005 L576.5,341.90000000000003 L567.9000000000001,341.90000000000003 Z" fill="#ff0000"/>
<path d="M567.7,338.3 L572.0,346.0 L563.4000000000001,346.0 Z" fill="#ff0000"/>
<path d="M561.9,332.1 L566.1999999999999,339.8 L557.6,339.8 Z" fill="#ff0000"/>
<line x1="503.40" y1="312.60" x2="503.40" y2="319.20" stroke="#000" stroke-width="1.3" />
<line x1="498.90" y1="312.60" x2="507.90" y2="312.60" stroke="#000" stroke-width="1.3" />
<line x1="498.90" y1="319.20" x2="507.90" y2="319.20" stroke="#000" stroke-width="1.3" />
<line x1="535.80" y1="344.70" x2="535.80" y2="350.90" stroke="#000" stroke-width="1.3" />
<line x1="531.30" y1="344.70" x2="540.30" y2="344.70" stroke="#000" stroke-width="1.3" />
<line x1="531.30" y1="350.90" x2="540.30" y2="350.90" stroke="#000" stroke-width="1.3" />
<line x1="567.70" y1="330.30" x2="567.70" y2="334.90" stroke="#000" stroke-width="1.3" />
<line x1="562.70" y1="330.30" x2="572.70" y2="330.30" stroke="#000" stroke-width="1.3" />
<line x1="562.70" y1="334.90" x2="572.70" y2="334.90" stroke="#000" stroke-width="1.3" />
<line x1="501.80" y1="228.10" x2="570.30" y2="228.10" stroke="#333" stroke-width="1.6" />
<text x="530.20" y="230.00" font-size="15" font-weight="bold" style="stroke:none">**</text>
<line x1="503.20" y1="241.00" x2="533.00" y2="241.00" stroke="#333" stroke-width="1.6" />
<text x="506.44" y="242.90" font-size="15" font-weight="bold" style="stroke:none">****</text>
<line x1="537.80" y1="287.20" x2="567.90" y2="287.20" stroke="#333" stroke-width="1.6" />
<text x="549.92" y="289.10" font-size="15" font-weight="bold" style="stroke:none">*</text>
<text transform="translate(489.33,423.48) rotate(-45)" font-size="16">CTRL</text>
<text transform="translate(527.02,414.29) rotate(-45)" font-size="16">ISO</text>
<text transform="translate(536.64,440.36) rotate(-45)" font-size="16">ISO+DEX</text>
<text x="40.07" y="470.90" font-size="20.5" font-weight="bold" fill="#000" >D</text>
<line x1="150.00" y1="620.90" x2="154.30" y2="620.90" stroke="#3a3a3a" stroke-width="1.4" />
<text x="120.62" y="624.50" font-size="16" fill="#000" >250</text>
<line x1="150.00" y1="584.90" x2="154.30" y2="584.90" stroke="#3a3a3a" stroke-width="1.4" />
<text x="120.62" y="588.50" font-size="16" fill="#000" >300</text>
<line x1="150.00" y1="548.90" x2="154.30" y2="548.90" stroke="#3a3a3a" stroke-width="1.4" />
<text x="120.62" y="551.60" font-size="16" fill="#000" >350</text>
<line x1="150.00" y1="512.90" x2="154.30" y2="512.90" stroke="#3a3a3a" stroke-width="1.4" />
<text x="120.62" y="516.80" font-size="16" fill="#000" >400</text>
<line x1="150.00" y1="476.90" x2="154.30" y2="476.90" stroke="#3a3a3a" stroke-width="1.4" />
<text x="120.62" y="480.10" font-size="16" fill="#000" >450</text>
<text transform="translate(107.60,628.54) rotate(-90)" font-size="16">Corticosterone (ng/ml)</text>
<rect x="159.80" y="529.3" width="20.90" height="91.60" fill="none" stroke="#1a1a1a" stroke-width="1.3"/>
<rect x="192.00" y="561.7" width="20.70" height="59.20" fill="none" stroke="#2f3f98" stroke-width="1.3"/>
<rect x="224.10" y="545.1" width="21.20" height="75.80" fill="none" stroke="#e82030" stroke-width="1.3"/>
<line x1="154.30" y1="476.00" x2="154.30" y2="620.90" stroke="#3a3a3a" stroke-width="1.4" />
<line x1="150.20" y1="620.90" x2="251.60" y2="620.90" stroke="#3a3a3a" stroke-width="1.4" />
<line x1="170.50" y1="620.90" x2="170.50" y2="625.10" stroke="#3a3a3a" stroke-width="1.4" />
<line x1="202.20" y1="620.90" x2="202.20" y2="625.10" stroke="#3a3a3a" stroke-width="1.4" />
<line x1="234.20" y1="620.90" x2="234.20" y2="625.10" stroke="#3a3a3a" stroke-width="1.4" />
<circle cx="174.7" cy="511.2" r="3.7" fill="#000"/>
<circle cx="161.7" cy="520" r="3.7" fill="#000"/>
<circle cx="165.6" cy="525.2" r="3.7" fill="#000"/>
<circle cx="168.2" cy="527.9" r="3.7" fill="#000"/>
<circle cx="171.7" cy="528.8" r="3.7" fill="#000"/>
<circle cx="174.7" cy="526.1" r="3.7" fill="#000"/>
<circle cx="176.1" cy="529.6" r="3.7" fill="#000"/>
<circle cx="163.8" cy="527.9" r="3.7" fill="#000"/>
<circle cx="170" cy="530.5" r="3.7" fill="#000"/>
<circle cx="174.7" cy="543.4" r="3.7" fill="#000"/>
<circle cx="165.9" cy="548.1" r="3.7" fill="#000"/>
<rect x="203.3" y="541.9" width="7.2" height="7.2" fill="#0010c0"/>
<rect x="189.8" y="546.8" width="7.2" height="7.2" fill="#0010c0"/>
<rect x="195.4" y="552.5" width="7.2" height="7.2" fill="#0010c0"/>
<rect x="203.3" y="552.5" width="7.2" height="7.2" fill="#0010c0"/>
<rect x="194.5" y="557.4" width="7.2" height="7.2" fill="#0010c0"/>
<rect x="201.6" y="558.1" width="7.2" height="7.2" fill="#0010c0"/>
<rect x="198.1" y="559.5" width="7.2" height="7.2" fill="#0010c0"/>
<rect x="203.3" y="574.5" width="7.2" height="7.2" fill="#0010c0"/>
<rect x="194.5" y="577.1" width="7.2" height="7.2" fill="#0010c0"/>
<path d="M238.6,523.5 L242.9,531.1999999999999 L234.29999999999998,531.1999999999999 Z" fill="#ff0000"/>
<path d="M225.4,530.5 L229.70000000000002,538.1999999999999 L221.1,538.1999999999999 Z" fill="#ff0000"/>
<path d="M229.8,536.7 L234.10000000000002,544.4 L225.5,544.4 Z" fill="#ff0000"/>
<path d="M237.7,537.6 L242.0,545.3 L233.39999999999998,545.3 Z" fill="#ff0000"/>
<path d="M232.5,540.2 L236.8,547.9 L228.2,547.9 Z" fill="#ff0000"/>
<path d="M235.1,542.9 L239.4,550.5999999999999 L230.79999999999998,550.5999999999999 Z" fill="#ff0000"/>
<path d="M240.4,542.9 L244.70000000000002,550.5999999999999 L236.1,550.5999999999999 Z" fill="#ff0000"/>
<path d="M228.9,541.1 L233.20000000000002,548.8 L224.6,548.8 Z" fill="#ff0000"/>
<path d="M234.2,566.6 L238.5,574.3 L229.89999999999998,574.3 Z" fill="#ff0000"/>
<line x1="170.30" y1="527.00" x2="170.30" y2="532.00" stroke="#000" stroke-width="1.3" />
<line x1="165.80" y1="527.00" x2="174.80" y2="527.00" stroke="#000" stroke-width="1.3" />
<line x1="165.80" y1="532.00" x2="174.80" y2="532.00" stroke="#000" stroke-width="1.3" />
<line x1="202.20" y1="556.90" x2="202.20" y2="565.70" stroke="#000" stroke-width="1.3" />
<line x1="197.80" y1="556.90" x2="206.60" y2="556.90" stroke="#000" stroke-width="1.3" />
<line x1="197.80" y1="565.70" x2="206.60" y2="565.70" stroke="#000" stroke-width="1.3" />
<line x1="234.60" y1="541.10" x2="234.60" y2="548.10" stroke="#000" stroke-width="1.3" />
<line x1="228.90" y1="541.10" x2="240.30" y2="541.10" stroke="#000" stroke-width="1.3" />
<line x1="228.90" y1="548.10" x2="240.30" y2="548.10" stroke="#000" stroke-width="1.3" />
<line x1="169.40" y1="484.10" x2="238.00" y2="484.10" stroke="#333" stroke-width="1.6" />
<text x="197.85" y="486.00" font-size="15" font-weight="bold" style="stroke:none">**</text>
<line x1="171.10" y1="500.90" x2="200.60" y2="500.90" stroke="#333" stroke-width="1.6" />
<text x="174.19" y="502.80" font-size="15" font-weight="bold" style="stroke:none">****</text>
<line x1="205.60" y1="516.80" x2="235.40" y2="516.80" stroke="#333" stroke-width="1.6" />
<text x="214.65" y="518.70" font-size="15" font-weight="bold" style="stroke:none">**</text>
<text transform="translate(156.33,665.48) rotate(-45)" font-size="16">CTRL</text>
<text transform="translate(194.02,656.29) rotate(-45)" font-size="16">ISO</text>
<text transform="translate(203.94,683.06) rotate(-45)" font-size="16">ISO+DEX</text>
<text x="319.27" y="470.90" font-size="20.5" font-weight="bold" fill="#000" >E</text>
<line x1="419.60" y1="476.00" x2="419.60" y2="621.80" stroke="#3a3a3a" stroke-width="1.4" />
<line x1="418.90" y1="621.80" x2="603.90" y2="621.80" stroke="#3a3a3a" stroke-width="1.4" />
<line x1="416.40" y1="621.60" x2="419.60" y2="621.60" stroke="#3a3a3a" stroke-width="1.4" />
<text x="385.82" y="627.20" font-size="16" fill="#000" >300</text>
<line x1="416.40" y1="573.27" x2="419.60" y2="573.27" stroke="#3a3a3a" stroke-width="1.4" />
<text x="385.82" y="578.87" font-size="16" fill="#000" >340</text>
<line x1="416.40" y1="524.93" x2="419.60" y2="524.93" stroke="#3a3a3a" stroke-width="1.4" />
<text x="385.82" y="530.53" font-size="16" fill="#000" >380</text>
<line x1="416.40" y1="476.60" x2="419.60" y2="476.60" stroke="#3a3a3a" stroke-width="1.4" />
<text x="385.82" y="482.20" font-size="16" fill="#000" >420</text>
<line x1="419.40" y1="621.80" x2="419.40" y2="625.60" stroke="#3a3a3a" stroke-width="1.4" />
<text x="411.50" y="643.20" font-size="16" fill="#000" >10</text>
<line x1="465.38" y1="621.80" x2="465.38" y2="625.60" stroke="#3a3a3a" stroke-width="1.4" />
<text x="457.68" y="643.20" font-size="16" fill="#000" >20</text>
<line x1="511.35" y1="621.80" x2="511.35" y2="625.60" stroke="#3a3a3a" stroke-width="1.4" />
<text x="503.73" y="643.20" font-size="16" fill="#000" >30</text>
<line x1="557.32" y1="621.80" x2="557.32" y2="625.60" stroke="#3a3a3a" stroke-width="1.4" />
<text x="549.86" y="643.20" font-size="16" fill="#000" >40</text>
<line x1="603.30" y1="621.80" x2="603.30" y2="625.60" stroke="#3a3a3a" stroke-width="1.4" />
<text x="595.68" y="643.20" font-size="16" fill="#000" >50</text>
<text x="454.52" y="662.00" font-size="16" fill="#000" >Freezing Time (%)</text>
<text transform="translate(371.30,626.94) rotate(-90)" font-size="16">Corticosterone (ng/ml)</text>
<text x="431.9" y="493.1" font-size="15.6">r<tspan font-size="8.4" dy="-5.4">2</tspan><tspan dy="5.4" dx="1.2"> = 0.6190</tspan></text>
<text x="432.29" y="513.50" font-size="15.6" fill="#000" >p &lt; 0.0001</text>
<line x1="433.90" y1="593.40" x2="585.60" y2="512.00" stroke="#a8a8a8" stroke-width="1" />
<circle cx="546.7" cy="498.2" r="2.4" fill="#000"/>
<circle cx="580.9" cy="512.8" r="2.4" fill="#000"/>
<circle cx="555.9" cy="527.1" r="2.4" fill="#000"/>
<circle cx="560.6" cy="523.4" r="2.4" fill="#000"/>
<circle cx="562.3" cy="522.4" r="2.4" fill="#000"/>
<circle cx="585.6" cy="527.3" r="2.4" fill="#000"/>
<circle cx="522" cy="529.8" r="2.4" fill="#000"/>
<circle cx="510.1" cy="552.7" r="2.4" fill="#000"/>
<circle cx="506.3" cy="561.1" r="2.4" fill="#000"/>
<circle cx="546.2" cy="526.6" r="2.4" fill="#f00000"/>
<circle cx="501.4" cy="537.5" r="2.4" fill="#f00000"/>
<circle cx="503.8" cy="549.4" r="2.4" fill="#f00000"/>
<circle cx="521" cy="554.3" r="2.4" fill="#f00000"/>
<circle cx="494.9" cy="557.6" r="2.4" fill="#f00000"/>
<circle cx="492.6" cy="559.7" r="2.4" fill="#f00000"/>
<circle cx="465.7" cy="548.2" r="2.4" fill="#f00000"/>
<circle cx="512.7" cy="597.5" r="2.4" fill="#f00000"/>
<circle cx="499.8" cy="555.7" r="2.4" fill="#0010f0"/>
<circle cx="490.9" cy="564.1" r="2.4" fill="#0010f0"/>
<circle cx="433.9" cy="573.6" r="2.4" fill="#0010f0"/>
<circle cx="459.6" cy="573.6" r="2.4" fill="#0010f0"/>
<circle cx="445.8" cy="585.8" r="2.4" fill="#0010f0"/>
<circle cx="458.1" cy="583.5" r="2.4" fill="#0010f0"/>
<circle cx="438" cy="611" r="2.4" fill="#0010f0"/>
<circle cx="483.8" cy="614.7" r="2.4" fill="#0010f0"/>
<rect x="548.3" y="545.5" width="83.4" height="67.7" fill="#fff" stroke="#4a4040" stroke-width="1.2"/>
<circle cx="556.8" cy="559.4" r="3.2" fill="#000"/>
<text x="565.50" y="563.80" font-size="14" fill="#000" >CTRL</text>
<circle cx="556.8" cy="579.7" r="3.2" fill="#0010f0"/>
<text x="564.94" y="583.90" font-size="14" fill="#000" >ISO</text>
<circle cx="556.8" cy="599.8" r="3.2" fill="#e00010"/>
<text x="564.94" y="604.30" font-size="14" fill="#000" >ISO+DEX</text>
</svg></body></html>
